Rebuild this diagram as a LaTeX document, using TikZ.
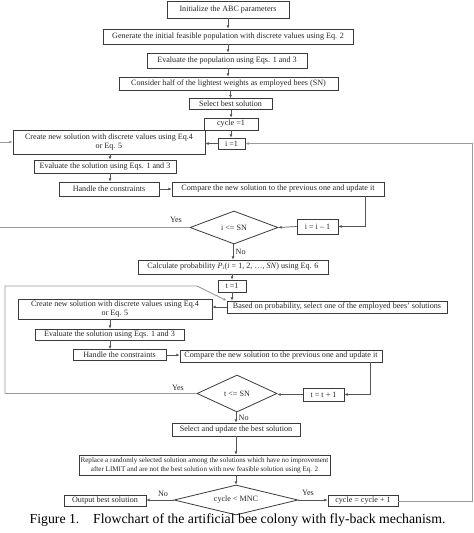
\documentclass[tikz,border=0pt]{standalone}
\usepackage{fontspec}
\setmainfont{Liberation Serif}
\usetikzlibrary{shapes.geometric,arrows.meta}
\definecolor{bordc}{HTML}{3A3A3A}
\definecolor{linec}{HTML}{555555}
\definecolor{loopc}{HTML}{9A9A9A}
\tikzset{
  box/.style={draw=bordc, line width=0.8pt, inner sep=0pt, align=center,
    font=\fontsize{8.1}{9.0}\selectfont, text=black!85},
  dia/.style={draw=bordc, line width=0.8pt, diamond, inner sep=0pt, aspect=2.5,
    font=\fontsize{8.1}{9.0}\selectfont, text=black!85},
  conn/.style={draw=linec, line width=0.7pt, -{Latex[length=3.2pt,width=3pt]}},
  loopline/.style={draw=loopc, line width=0.9pt, -{Latex[length=3.2pt,width=3pt]}},
  lbl/.style={font=\fontsize{8.1}{9.0}\selectfont, text=black!85, inner sep=0pt},
}
\begin{document}
\begin{tikzpicture}[x=1pt,y=-1pt]
\useasboundingbox (0,0) rectangle (474,533);
% nodes
\node[box, minimum width=122pt, minimum height=17pt] (init) at (228,9.5) {Initialize the ABC parameters};
\node[box, minimum width=250pt, minimum height=15pt] (gen) at (228,36.5) {Generate the initial feasible population with discrete values using Eq. 2};
\node[box, minimum width=160pt, minimum height=15pt] (evalpop) at (227,60.5) {Evaluate the population using Eqs. 1 and 3};
\node[box, minimum width=219pt, minimum height=13pt] (consider) at (228.5,83.5) {Consider half of the lightest weights as employed bees (SN)};
\node[box, minimum width=83pt, minimum height=11pt] (selbest) at (230.5,104) {Select best solution};
\node[box, minimum width=54pt, minimum height=12pt] (cycone) at (231,124) {cycle =1};
\node[box, minimum width=27pt, minimum height=11pt] (ione) at (231.5,143.5) {i =1};
\node[box, minimum width=192pt, minimum height=24pt] (createA) at (109,142) {Create new solution with discrete values using Eq.4\\or Eq. 5};
\node[box, minimum width=142pt, minimum height=13pt] (evalA) at (105,166.5) {Evaluate the solution using Eqs. 1 and 3};
\node[box, minimum width=100pt, minimum height=14pt] (handleA) at (109,189) {Handle the constraints};
\node[box, minimum width=212pt, minimum height=14pt] (compA) at (278,189) {Compare the new solution to the previous one and update it};
\node[dia, minimum width=88pt, minimum height=33pt] (diaA) at (234,227.5) {i <= SN};
\node[box, minimum width=41pt, minimum height=15pt] (iminus) at (317.5,226.5) {i = i -- 1};
\node[box, minimum width=190pt, minimum height=14pt] (calc) at (233,267) {Calculate probability \textit{P}\textsubscript{\textit{i}}(\textit{i} = 1, 2, …, \textit{SN}) using Eq. 6};
\node[box, minimum width=28pt, minimum height=12pt] (tone) at (232,286) {t =1};
\node[box, minimum width=194pt, minimum height=20pt] (createB) at (115,309) {Create new solution with discrete values using Eq.4\\or Eq. 5};
\node[box, minimum width=220pt, minimum height=12pt] (based) at (337,307) {Based on probability, select one of the employed bees' solutions};
\node[box, minimum width=149pt, minimum height=11pt] (evalB) at (109.5,334.5) {Evaluate the solution using Eqs. 1 and 3};
\node[box, minimum width=93pt, minimum height=11pt] (handleB) at (119.5,355) {Handle the constraints};
\node[box, minimum width=202pt, minimum height=12pt] (compB) at (281,356) {Compare the new solution to the previous one and update it};
\node[dia, minimum width=80pt, minimum height=37pt] (diaB) at (237,393.5) {t <= SN};
\node[box, minimum width=41pt, minimum height=13pt] (tplus) at (323.5,394.5) {t = t + 1};
\node[box, minimum width=128pt, minimum height=13pt] (selupd) at (236,429.5) {Select and update the best solution};
\node[box, minimum width=251pt, minimum height=20pt, font=\fontsize{7.1}{8.6}\selectfont] (replace) at (204.5,465) {Replace a randomly selected solution among the solutions which have no improvement\\after LIMIT and are not the best solution with new feasible solution using Eq. 2};
\node[dia, minimum width=124pt, minimum height=30pt] (diaC) at (236,500) {cycle < MNC};
\node[box, minimum width=82pt, minimum height=11pt] (output) at (105,501) {Output best solution};
\node[box, minimum width=70pt, minimum height=11pt] (cycplus) at (363,501) {cycle = cycle + 1};
\node[inner sep=0pt, font=\fontsize{13.8}{15}\selectfont] (caption) at (237.5,520.5) {Figure 1.\hspace{1.0em}Flowchart of the artificial bee colony with fly-back mechanism.};
% helper coordinates
\coordinate (colA) at (110,0);
\coordinate (leftA) at (-3,0);
\coordinate (leftB) at (5,0);
\coordinate (bendB) at (197,286);
\coordinate (rightR) at (472,0);
% main column
\draw[conn] (init.south) -- (init.south |- gen.north);
\draw[conn] (gen.south) -- (gen.south |- evalpop.north);
\draw[conn] (evalpop.south -| gen.south) -- (gen.south |- consider.north);
\draw[conn] (consider.south -| selbest.south) -- (selbest.north);
\draw[conn] (selbest.south -| cycone.south) -- (cycone.north);
\draw[conn] (cycone.south) -- (cycone.south |- ione.north);
\draw[conn] (ione.west) -- (ione.west -| createA.east);
\draw[conn] (createA.south -| colA) -- (evalA.north -| colA);
\draw[conn] (evalA.south -| colA) -- (handleA.north -| colA);
\draw[conn] (handleA.east) -- (compA.west);
\draw[conn] ([xshift=-19pt]compA.south east) |- (iminus.east);
\draw[conn] (iminus.west) -- (diaA.east);
\draw[loopline] (diaA.west) -- (diaA.west -| leftA) |- (createA.west);
\node[lbl] (yesA) at (176,220) {Yes};
\draw[conn] (diaA.south -| calc.north) -- (calc.north);
\node[lbl, anchor=west] (noA) at (235.5,252) {No};
\draw[conn] (calc.south -| tone.north) -- (tone.north);
\draw[conn] (tone.south) -- (tone.south |- based.north);
\draw[conn] (based.west) -- (based.west -| createB.east);
\draw[conn] (createB.south -| colA) -- (evalB.north -| colA);
\draw[conn] (evalB.south -| colA) -- (handleB.north -| colA);
\draw[conn] (handleB.east) -- (handleB.east -| compB.west);
\draw[conn] ([xshift=-12pt]compB.south east) |- (tplus.east);
\draw[conn] (tplus.west) -- (tplus.west -| diaB.east);
\draw[loopline] (diaB.west) -- (diaB.west -| leftB) |- (bendB) -- (based.north west);
\node[lbl] (yesB) at (178,388) {Yes};
\draw[conn] (diaB.south -| selupd.north) -- (selupd.north);
\node[lbl, anchor=west] (noB) at (238.5,418) {No};
\draw[conn] (selupd.south) -- (selupd.south |- replace.north);
\draw[conn] (replace.south -| diaC.north) -- (diaC.north);
\draw[conn] (diaC.west) -- (diaC.west -| output.east);
\node[lbl] (noC) at (163,494) {No};
\draw[conn] (diaC.east) -- (diaC.east -| cycplus.west);
\node[lbl] (yesC) at (308,493) {Yes};
\draw[loopline] (cycplus.east) -- (cycplus.east -| rightR) -- (ione.east -| rightR) -- (ione.east);
\end{tikzpicture}
\end{document}
